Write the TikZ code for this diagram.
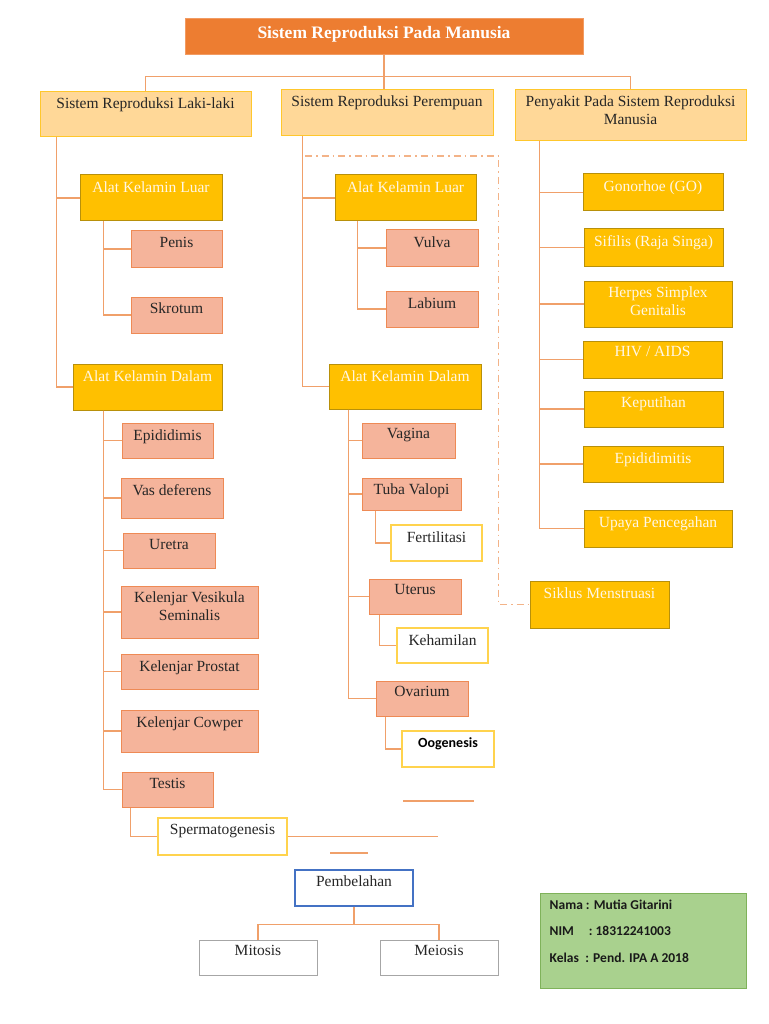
\documentclass[tikz,border=0pt]{standalone}
\usepackage{fontspec}
\setmainfont{Liberation Serif}
\newfontfamily\calfont{Carlito}
\usetikzlibrary{calc,fit}
\definecolor{titleF}{HTML}{ED7D31}
\definecolor{titleD}{HTML}{F29B62}
\definecolor{lvlF}{HTML}{FFD898}
\definecolor{lvlD}{HTML}{FFC72C}
\definecolor{ylwF}{HTML}{FFC000}
\definecolor{ylwD}{HTML}{B8900A}
\definecolor{salF}{HTML}{F5B49B}
\definecolor{salD}{HTML}{EE8A55}
\definecolor{whtD}{HTML}{FFD34D}
\definecolor{lineC}{HTML}{F0A06A}
\definecolor{grnF}{HTML}{A9D18E}
\definecolor{grnD}{HTML}{7FB25A}
\definecolor{bluD}{HTML}{4472C4}
\definecolor{gryD}{HTML}{A6A6A6}
\definecolor{txtW}{HTML}{FFF7E6}
\tikzset{
  conn/.style={draw=lineC, line width=1.1pt},
  dd/.style={draw=lineC!80, line width=1.1pt, dash pattern=on 7pt off 4pt on 1.5pt off 4pt},
  bx/.style={inner sep=0pt, line width=1pt},
  titlebox/.style={bx, fill=titleF, draw=titleD},
  lvl/.style={bx, fill=lvlF, draw=lvlD},
  ylw/.style={bx, fill=ylwF, draw=ylwD},
  sal/.style={bx, fill=salF, draw=salD},
  wht/.style={bx, fill=white, draw=whtD, line width=1.3pt},
  grn/.style={bx, fill=grnF, draw=grnD},
  blu/.style={bx, fill=white, draw=bluD, line width=1.3pt},
  gry/.style={bx, fill=white, draw=gryD},
  lb/.style={anchor=north, inner sep=0pt, align=center, font=\fontsize{15.5}{18}\selectfont, text=black!85},
  lw/.style={lb, text=txtW},
  lt/.style={anchor=north, inner sep=0pt, font=\fontsize{17.5}{20}\selectfont\bfseries, text=white},
  lc/.style={anchor=north, inner sep=0pt, font=\calfont\fontsize{14}{16}\selectfont\bfseries, text=black}
}
\newcommand\bxx[9]{%
  \node[#2, fit={(#3,#4) (#5,#6)}] (#1) {};
  \node[#7] (#1t) at ($(#1.north)+(0,#9)$) {#8};}
\begin{document}
\begin{tikzpicture}[x=1pt,y=-1pt]
\useasboundingbox (0,0) rectangle (768,1024);
% title and level 1
\bxx{title}{titlebox}{185}{19}{583}{55}{lt}{Sistem Reproduksi Pada Manusia}{8}
\bxx{L1}{lvl}{40}{92}{251}{137}{lb}{Sistem Reproduksi Laki-laki}{6}
\bxx{L2}{lvl}{281}{90}{493}{136}{lb}{Sistem Reproduksi Perempuan}{6}
\bxx{L3}{lvl}{515}{90}{746}{141}{lb}{Penyakit Pada Sistem Reproduksi\\Manusia}{6}
\draw[conn] (title.south) -- (title.south |- L2.north);
\draw[conn] (L1.north) |- ($(title.south)+(0,21)$) -| (L3.north);
% left column
\bxx{aklL}{ylw}{80}{175}{222}{221}{lw}{Alat Kelamin Luar}{7}
\bxx{penis}{sal}{131}{231}{222}{267}{lb}{Penis}{7}
\bxx{skrotum}{sal}{131}{297}{222}{333}{lb}{Skrotum}{6}
\bxx{akdL}{ylw}{73}{364}{222}{410}{lw}{Alat Kelamin Dalam}{7}
\bxx{epi}{sal}{122}{423}{213}{458}{lb}{Epididimis}{7}
\bxx{vas}{sal}{121}{478}{223}{518}{lb}{Vas deferens}{7}
\bxx{uretra}{sal}{123}{533}{215}{568}{lb}{Uretra}{7}
\bxx{vesikula}{sal}{121}{586}{258}{638}{lb}{Kelenjar Vesikula\\Seminalis}{6}
\bxx{prostat}{sal}{121}{654}{258}{689}{lb}{Kelenjar Prostat}{7}
\bxx{cowper}{sal}{121}{710}{258}{752}{lb}{Kelenjar Cowper}{7}
\bxx{testis}{sal}{122}{772}{213}{807}{lb}{Testis}{7}
\bxx{sperm}{wht}{158}{818}{287}{855}{lb}{Spermatogenesis}{7}
\draw[conn] ($(L1.south west)+(17,0)$) |- (akdL.west);
\draw[conn] ($(L1.south west)+(17,0)$) |- (aklL.west);
\draw[conn] ($(aklL.south west)+(24,0)$) |- (skrotum.west);
\draw[conn] ($(aklL.south west)+(24,0)$) |- (penis.west);
\draw[conn] ($(akdL.south west)+(31,0)$) |- (testis.west);
\foreach \n in {epi,vas,uretra,vesikula,prostat,cowper}
  \draw[conn] ($(akdL.south west)+(31,0)$) |- (\n.west);
\draw[conn] ($(testis.south west)+(9,0)$) |- (sperm.west);
\coordinate (spEnd) at (438,835);
\draw[conn] (sperm.east) -- (sperm.east -| spEnd);
\draw[conn] (403,801) -- (474,801);
\draw[conn] (330,853) -- (368,853);
% middle column
\bxx{aklM}{ylw}{335}{175}{476}{221}{lw}{Alat Kelamin Luar}{7}
\bxx{vulva}{sal}{386}{230}{478}{266}{lb}{Vulva}{7}
\bxx{labium}{sal}{386}{291}{478}{327}{lb}{Labium}{7}
\bxx{akdM}{ylw}{329}{364}{481}{409}{lw}{Alat Kelamin Dalam}{7}
\bxx{vagina}{sal}{362}{423}{455}{458}{lb}{Vagina}{6}
\bxx{tuba}{sal}{362}{478}{461}{510}{lb}{Tuba Valopi}{6}
\bxx{fert}{wht}{391}{525}{482}{561}{lb}{Fertilitasi}{7}
\bxx{uterus}{sal}{369}{579}{461}{614}{lb}{Uterus}{6}
\bxx{hamil}{wht}{397}{628}{488}{663}{lb}{Kehamilan}{7}
\bxx{ovarium}{sal}{376}{681}{468}{716}{lb}{Ovarium}{6}
\bxx{oogen}{wht}{402}{731}{494}{767}{lc}{Oogenesis}{7}
\bxx{siklus}{ylw}{530}{581}{669}{628}{lw}{Siklus Menstruasi}{7}
\draw[conn] ($(L2.south west)+(22,0)$) |- (akdM.west);
\draw[conn] ($(L2.south west)+(22,0)$) |- (aklM.west);
\draw[conn] ($(aklM.south west)+(23,0)$) |- (labium.west);
\draw[conn] ($(aklM.south west)+(23,0)$) |- (vulva.west);
\draw[conn] ($(akdM.south west)+(20,0)$) |- (ovarium.west);
\foreach \n in {vagina,tuba,uterus}
  \draw[conn] ($(akdM.south west)+(20,0)$) |- (\n.west);
\draw[conn] ($(tuba.south west)+(14,0)$) |- (fert.west);
\draw[conn] ($(uterus.south west)+(11,0)$) |- (hamil.west);
\draw[conn] ($(ovarium.south west)+(10,0)$) |- (oogen.west);
\draw[dd] (305,156) -| ($(siklus.west)+(-31,0)$) -- (siklus.west);
% right column
\bxx{go}{ylw}{583}{174}{723}{211}{lw}{Gonorhoe (GO)}{7}
\bxx{sifilis}{ylw}{584}{229}{723}{266}{lw}{Sifilis (Raja Singa)}{7}
\bxx{herpes}{ylw}{584}{281}{732}{327}{lw}{Herpes Simplex\\Genitalis}{6}
\bxx{hiv}{ylw}{583}{341}{722}{378}{lw}{HIV / AIDS}{6}
\bxx{keputihan}{ylw}{584}{391}{723}{427}{lw}{Keputihan}{6}
\bxx{epimit}{ylw}{583}{446}{723}{482}{lw}{Epididimitis}{7}
\bxx{upaya}{ylw}{584}{510}{732}{547}{lw}{Upaya Pencegahan}{7}
\draw[conn] ($(L3.south west)+(25,0)$) |- (upaya.west);
\foreach \n in {go,sifilis,herpes,hiv,keputihan,epimit}
  \draw[conn] ($(L3.south west)+(25,0)$) |- (\n.west);
% bottom
\bxx{pemb}{blu}{295}{870}{413}{906}{lb}{Pembelahan}{6}
\bxx{mitosis}{gry}{199}{940}{317}{975}{lb}{Mitosis}{6}
\bxx{meiosis}{gry}{380}{940}{498}{975}{lb}{Meiosis}{6}
\draw[conn] (pemb.south) -- ($(pemb.south)+(0,18)$);
\draw[conn] (mitosis.north) |- ($(pemb.south)+(0,18)$) -| (meiosis.north);
% name box
\node[grn, fit={(540,893) (746,988)}] (nama) {};
\node[anchor=north west, inner sep=0pt, align=left, font=\calfont\fontsize{13.5}{26.5}\selectfont\bfseries, text=black!90] (namat) at ($(nama.north west)+(10,7)$)
  {Nama : Mutia Gitarini\\NIM\hspace{1.1em}: 18312241003\\Kelas\hspace{0.25em} : Pend. IPA A 2018};
\end{tikzpicture}
\end{document}
